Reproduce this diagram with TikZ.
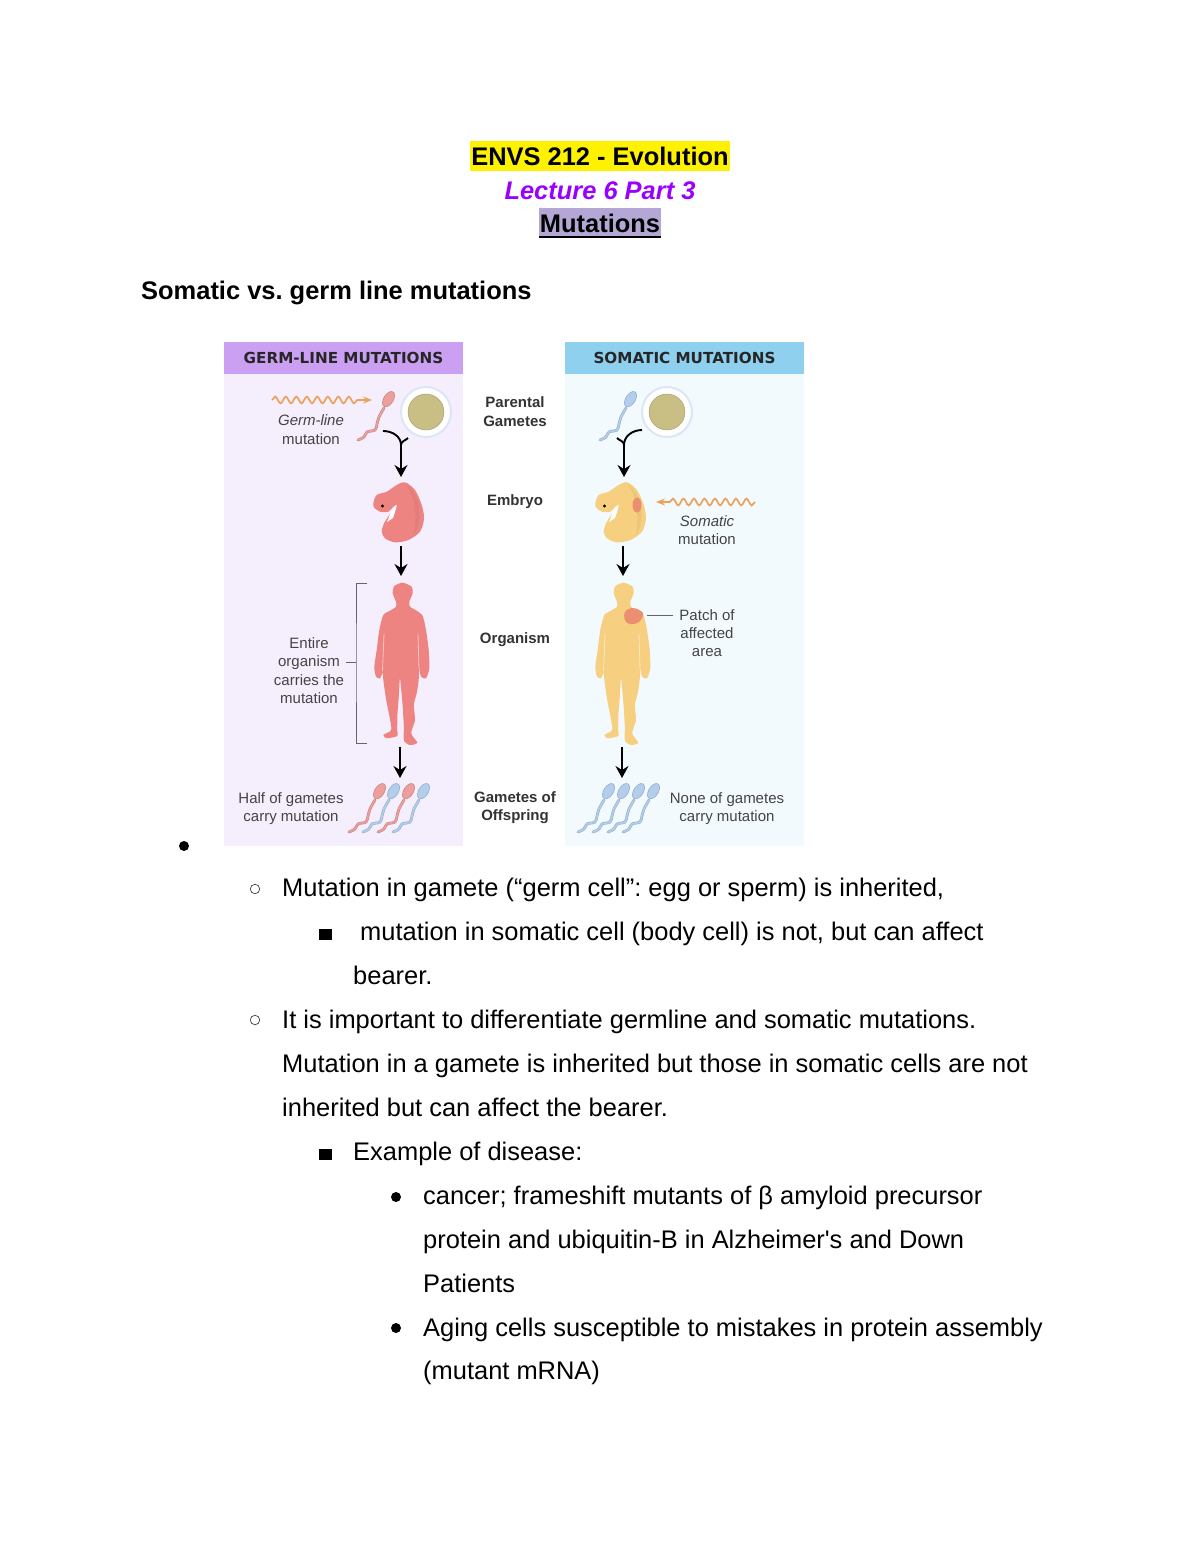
\documentclass[tikz,border=0pt]{standalone}
\usepackage{fontspec}
\setmainfont{Liberation Sans}[Ligatures=TeXOff]
\newfontfamily\headfont{DejaVu Sans}
\usetikzlibrary{arrows.meta,decorations.pathmorphing}

\definecolor{germhead}{HTML}{CBA0F2}
\definecolor{germback}{HTML}{F5EEFD}
\definecolor{somahead}{HTML}{8FD0EE}
\definecolor{somaback}{HTML}{F3FAFE}
\definecolor{pinkbody}{HTML}{EE8481}
\definecolor{yellowbody}{HTML}{F6CF80}
\definecolor{patchred}{HTML}{EC8F70}
\definecolor{waveorange}{HTML}{E9A35A}
\definecolor{eggyolk}{HTML}{C9BE84}
\definecolor{eggring}{HTML}{DCE6F6}
\definecolor{spermpink}{HTML}{EC9F9B}
\definecolor{spermblue}{HTML}{B2CEEC}
\definecolor{labelgrey}{HTML}{444444}
\definecolor{lecturepurple}{HTML}{9900FF}
\definecolor{titlelilac}{HTML}{B4A7D6}

\newcommand{\pagefont}{\fontsize{25.45}{31}\selectfont\frenchspacing}
\newcommand{\figfont}{\fontsize{15}{18.3}\selectfont}

\tikzset{
    human/.pic={
        \fill[#1] plot[smooth cycle, tension=0.4] coordinates {
            (0.7,-77.3) (9.7,-73.3) (10.7,-66.7) (7.3,-58.3) (8,-53.3) (14.7,-49.3) (20.7,-44) (24,-30)
            (26.7,-10) (27.3,8.3) (24,18.3) (19,16.7) (17,8.3) (16.7,20) (14.7,33.3) (11.8,45) (13,60)
            (9.2,73.3) (15.3,82.7) (8,85) (2,80.7) (1.8,66.7) (0.7,46.7) (-2,18.3) (-3.2,36.7) (-4.5,53.3)
            (-4.8,70) (-4.7,76) (-15.3,78.3) (-18.7,75) (-10.8,70) (-12.5,56.7) (-15.8,40) (-18.7,20)
            (-19.3,12.7) (-22,18.3) (-26,16.7) (-27.7,6.7) (-25.3,-10) (-22.7,-30) (-18.7,-45) (-12,-49.3)
            (-6,-53.3) (-6,-58.3) (-9.3,-66.7) (-7.7,-74)};
        \draw[white!50!#1, line width=0.8pt] (16,-26) -- (17,9) (-18,-26) -- (-19.5,11);
    },
    embryo/.pic={
        \fill[#1] plot[smooth cycle, tension=0.5] coordinates {
            (-26.7,-9.7) (-23.3,-18) (-13.3,-21.3) (-3.3,-28) (5,-30.7) (15,-23) (21.7,-8) (24,5.3) (20,18.7)
            (8.3,27) (-5,29.3) (-15,25.3) (-18.3,18.7) (-16,10.3) (-13,5.3) (-3.3,-8) (-6.7,-6.3) (-11.7,-1.3)
            (-20,-1.3) (-25.7,-5.3)};
        \fill[#1!95!black] (6,-29) .. controls (20,-18) and (24,4) .. (14,22) .. controls (17,4) and (16,-14) .. (6,-29);
        \fill[white] (-3,-8) -- (-9,-1) -- (-13,9) -- (-7,5) -- (-5,-1) -- cycle;
        \fill[black] (-17.5,-7) circle (1.6);
    },
    sperm/.pic={
        \draw[#1!85!black, line width=2.8pt, line cap=round] plot[smooth, tension=0.6] coordinates {
            (-4,8) (-9,17) (-11,24) (-13,30) (-21,32) (-24,37) (-30,40)};
        \draw[#1, line width=1.6pt, line cap=round] plot[smooth, tension=0.6] coordinates {
            (-4,8) (-9,17) (-11,24) (-13,30) (-21,32) (-24,37) (-30,40)};
        \fill[#1, draw=#1!85!black, line width=0.6pt, rotate=-32] (0,-1) ellipse (4.8 and 8.5);
    },
    panelhead/.style={minimum width=239, minimum height=32, inner sep=0pt, text=black!85,
        font=\headfont\fontsize{15.2}{18}\selectfont\bfseries},
    figlabel/.style={align=center, inner sep=0pt, font=\figfont, text=labelgrey},
    rowlabel/.style={align=center, inner sep=0pt, font=\figfont\bfseries, text=black!80},
    pageline/.style={anchor=base west, inner sep=0pt, font=\pagefont},
    eggshell/.style={circle, draw=eggring, line width=2pt, fill=white, minimum size=50, inner sep=0pt},
    eggcore/.style={circle, fill=eggyolk, draw=eggyolk!80!black, thin, minimum size=36, inner sep=0pt},
    fate/.style={-{Stealth[length=12pt,width=13pt,inset=4pt]}, line width=1.9pt, black},
    fork/.style={line width=1.9pt, black},
    wave/.style={waveorange, line width=1.7pt, -{Stealth[length=9pt,width=7pt]}, decorate,
        decoration={snake, segment length=10.5pt, amplitude=3.4pt, post length=10pt}},
    thinrule/.style={black!60, line width=0.8pt},
    bigdot/.style={circle, fill=black, minimum size=10, inner sep=0pt},
    ringdot/.style={circle, draw=black!75, line width=0.7pt, minimum size=9.5, inner sep=0pt},
    squaredot/.style={rectangle, fill=black, minimum width=13, minimum height=11, inner sep=0pt}
}

\begin{document}
\begin{tikzpicture}[x=1pt, y=-1pt]
    \useasboundingbox (0,0) rectangle (1200,1553);

    % heading
    \node[fill=yellow, minimum width=260, minimum height=30, inner sep=0pt, font=\pagefont\bfseries] (title) at (600,156) {ENVS 212 - Evolution};
    \node[text=lecturepurple, inner sep=0pt, font=\pagefont\bfseries\itshape] (lecture) at (600,190.5) {Lecture 6 Part 3};
    \node[fill=titlelilac, minimum width=122, minimum height=30, inner sep=0pt, font=\pagefont\bfseries] (topic) at (600,223) {Mutations};
    \draw[black, line width=2.2pt] ([yshift=1.5pt]topic.south west) -- ([yshift=1.5pt]topic.south east);
    \node[pageline, font=\pagefont\bfseries] (section) at (141,299) {Somatic vs. germ line mutations};

    % the two panels
    \fill[germback] (224,374) rectangle (463,846);
    \fill[somaback] (565,374) rectangle (804,846);
    \node[panelhead, fill=germhead] (germtitle) at (343.5,358) {GERM-LINE MUTATIONS};
    \node[panelhead, fill=somahead] (somatitle) at (684.5,358) {SOMATIC MUTATIONS};

    \node[rowlabel] (rowgametes) at (515,411.5) {Parental\\Gametes};
    \node[rowlabel] (rowembryo) at (515,501.5) {Embryo};
    \node[rowlabel] (roworganism) at (515,640) {Organism};
    \node[rowlabel] (rowoffspring) at (515,807.5) {Gametes of\\Offspring};

    % germ line side
    \node[eggshell] (germegg) at (426,412) {};
    \node[eggcore] (germyolk) at (426,412) {};
    \pic at (388,400) {sperm=spermpink};
    \pic at (400,513) {embryo=pinkbody};
    \pic at (402,660) {human=pinkbody};
    \foreach \xpos/\spermcol in {379/spermpink,393/spermblue,408/spermpink,423/spermblue}
        \pic at (\xpos,792) {sperm=\spermcol};

    \coordinate (germwavestart) at (272,400);
    \coordinate (germwaveend) at (372,400);
    \draw[wave] (germwavestart) -- (germwaveend);
    \node[figlabel] (germlabel) at (311,429.5) {\textit{Germ-line}\\mutation};

    \coordinate (germforkleft) at (383,431);
    \coordinate (germforkright) at (408,438);
    \coordinate (germjoin) at (401,445);
    \coordinate (germembryotop) at (401,477);
    \coordinate (germembryobot) at (401,546);
    \coordinate (germbodytop) at (401,576);
    \coordinate (germbodybot) at (400,747);
    \coordinate (germspermtop) at (400,778);
    \draw[fork] (germforkleft) to[out=0, in=90] (germjoin);
    \draw[fork] (germforkright) to[out=-135, in=90] (germjoin);
    \draw[fate] (germjoin) -- (germembryotop);
    \draw[fate] (germembryobot) -- (germbodytop);
    \draw[fate] (germbodybot) -- (germspermtop);

    \coordinate (brackettop) at (367,583);
    \coordinate (bracketbot) at (367,743);
    \coordinate (bracketmid) at (356,662);
    \coordinate (bracketlabel) at (346,662);
    \draw[thinrule] (brackettop) -| (bracketmid) |- (bracketbot);
    \draw[thinrule] (bracketlabel) -- (bracketmid);
    \node[figlabel] (entirelabel) at (309,670.5) {Entire\\organism\\carries the\\mutation};
    \node[figlabel] (halflabel) at (291,808.5) {Half of gametes\\carry mutation};

    % somatic side
    \node[eggshell] (somaegg) at (667,412) {};
    \node[eggcore] (somayolk) at (667,412) {};
    \pic at (630,400) {sperm=spermblue};
    \pic at (622,513) {embryo=yellowbody};
    \fill[patchred] (637,505) ellipse (4.5 and 7.5);
    \pic at (623,660) {human=yellowbody};
    \fill[patchred] plot[smooth cycle, tension=0.6] coordinates {(625,612) (633,608) (643,613) (639,622) (630,624) (625,620)};
    \foreach \xpos in {608,623,638,653}
        \pic at (\xpos,792) {sperm=spermblue};

    \coordinate (somawavestart) at (755,502);
    \coordinate (somawaveend) at (656,502);
    \draw[wave] (somawavestart) -- (somawaveend);
    \node[figlabel] (somalabel) at (707,530) {\textit{Somatic}\\mutation};

    \coordinate (somaforkright) at (642,430);
    \coordinate (somaforkleft) at (617,438);
    \coordinate (somajoin) at (624,445);
    \coordinate (somaembryotop) at (624,477);
    \coordinate (somaembryobot) at (623,546);
    \coordinate (somabodytop) at (623,576);
    \coordinate (somabodybot) at (622,747);
    \coordinate (somaspermtop) at (622,778);
    \draw[fork] (somaforkright) to[out=180, in=90] (somajoin);
    \draw[fork] (somaforkleft) to[out=-45, in=90] (somajoin);
    \draw[fate] (somajoin) -- (somaembryotop);
    \draw[fate] (somaembryobot) -- (somabodytop);
    \draw[fate] (somabodybot) -- (somaspermtop);

    \coordinate (patchedge) at (647,615);
    \node[figlabel] (patchlabel) at (707,633) {Patch of\\affected\\area};
    \coordinate (patchend) at (673,615);
    \draw[thinrule] (patchedge) -- (patchend);
    \node[figlabel] (nonelabel) at (727,808.5) {None of gametes\\carry mutation};

    % bullets
    \node[bigdot] (dotfirst) at (184,846) {};
    \node[ringdot] (ringfirst) at (255,889) {};
    \node[squaredot] (squarefirst) at (325,934) {};
    \node[ringdot] (ringsecond) at (255,1020) {};
    \node[squaredot] (squaresecond) at (325,1154) {};
    \node[bigdot] (dotsecond) at (396,1197) {};
    \node[bigdot] (dotthird) at (396,1328) {};

    % body text
    \node[pageline] (lineone) at (282,896.5) {Mutation in gamete (“germ cell”: egg or sperm) is inherited,};
    \node[pageline] (linetwo) at (360,940) {mutation in somatic cell (body cell) is not, but can affect};
    \node[pageline] (linethree) at (353,984) {bearer.};
    \node[pageline] (linefour) at (282,1028) {It is important to differentiate germline and somatic mutations.};
    \node[pageline] (linefive) at (282,1072) {Mutation in a gamete is inherited but those in somatic cells are not};
    \node[pageline] (linesix) at (282,1116.5) {inherited but can affect the bearer.};
    \node[pageline] (lineseven) at (353,1160) {Example of disease:};
    \node[pageline] (lineeight) at (423,1204) {cancer; frameshift mutants of β amyloid precursor};
    \node[pageline] (linenine) at (423,1248) {protein and ubiquitin-B in Alzheimer's and Down};
    \node[pageline] (lineten) at (423,1292) {Patients};
    \node[pageline] (lineeleven) at (423,1336) {Aging cells susceptible to mistakes in protein assembly};
    \node[pageline] (linetwelve) at (423,1379) {(mutant mRNA)};
\end{tikzpicture}
\end{document}
